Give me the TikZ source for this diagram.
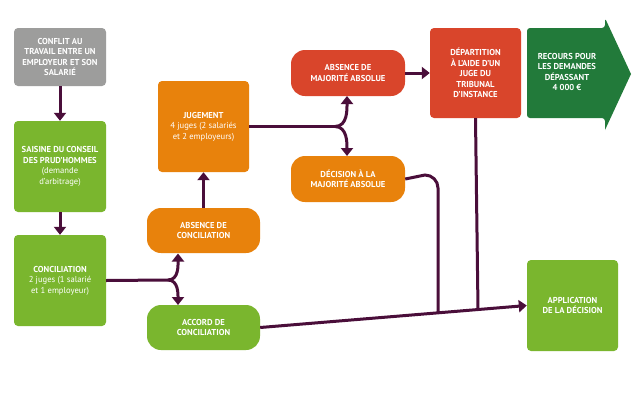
\documentclass[tikz,border=0pt]{standalone}
\usepackage{fontspec}
\setmainfont{PT Sans}
\usetikzlibrary{arrows.meta}
\definecolor{cgray}{HTML}{9D9D9C}
\definecolor{cgreen}{HTML}{7AB62E}
\definecolor{corange}{HTML}{E8820C}
\definecolor{cred}{HTML}{D9452B}
\definecolor{cdgreen}{HTML}{227A3A}
\definecolor{cline}{HTML}{4A0E3A}
\begin{document}
\begin{tikzpicture}[x=1pt,y=-1pt,
  box/.style={rounded corners=4pt,text=white,align=center,font=\fontsize{8.6}{10.5}\selectfont\bfseries,inner sep=0pt},
  pill/.style={box,rounded corners=14pt},
  ln/.style={draw=cline,line width=3pt},
  ar/.style={ln,-{Triangle[length=8pt,width=12pt]}}]
\useasboundingbox[fill=white] (0,0) rectangle (641,400);
\node[box,fill=cgray,minimum width=92pt,minimum height=58pt] (conf) at (60,57) {CONFLIT AU\\TRAVAIL ENTRE UN\\EMPLOYEUR ET SON\\SALARIÉ};
\node[box,fill=cgreen,minimum width=92pt,minimum height=91pt] (sais) at (60,166.5) {SAISINE DU CONSEIL\\DES PRUD’HOMMES\\{\mdseries(demande}\\{\mdseries d’arbitrage)}};
\node[box,fill=cgreen,minimum width=92pt,minimum height=91pt] (conc) at (60,280.5) {CONCILIATION\\{\mdseries 2 juges (1 salarié}\\{\mdseries et 1 employeur)}};
\node[pill,fill=corange,minimum width=113pt,minimum height=45pt] (absc) at (203.5,230.5) {ABSENCE DE\\CONCILIATION};
\node[box,fill=corange,minimum width=91pt,minimum height=91pt] (jug) at (203.5,126.5) {JUGEMENT\\{\mdseries 4 juges (2 salariés}\\{\mdseries et 2 employeurs)}};
\node[pill,fill=cgreen,minimum width=113pt,minimum height=45pt] (acc) at (203.5,327.5) {ACCORD DE\\CONCILIATION};
\node[pill,fill=cred,minimum width=114pt,minimum height=46pt] (absm) at (348,73) {ABSENCE DE\\MAJORITÉ ABSOLUE};
\node[pill,fill=corange,minimum width=114pt,minimum height=46pt] (dec) at (348,179) {DÉCISION À LA\\MAJORITÉ ABSOLUE};
\node[box,fill=cred,minimum width=91pt,minimum height=90pt] (dep) at (475.5,73) {DÉPARTITION\\À L’AIDE D’UN\\JUGE DU\\TRIBUNAL\\D’INSTANCE};
\fill[cdgreen,rounded corners=3pt] (527,28) -- (605,28) -- (605,18) [sharp corners]-- (631,74) -- (605,130) [rounded corners=3pt] -- (605,118) -- (527,118) -- cycle;
\node[box] (rec) at (567,72) {RECOURS POUR\\LES DEMANDES\\DÉPASSANT\\4 000 €};
\node[box,fill=cgreen,minimum width=91pt,minimum height=91pt] (app) at (572.5,305.5) {APPLICATION\\DE LA DÉCISION};
\coordinate (j1) at (438,312);
\coordinate (j2) at (478,309);
\draw[ar] (conf.south) -- (sais.north);
\draw[ar] (sais.south) -- (conc.north);
\draw[ln] (conc.east) -- (168,280);
\draw[ar] (168,280) to[out=0,in=-90] (178,253.5);
\draw[ar] (168,280) to[out=0,in=90] (178,305);
\draw[ar] (absc.north) -- (jug.south);
\draw[ln] (jug.east) -- (335,126.5);
\draw[ar] (335,126.5) to[out=0,in=-90] (347,96);
\draw[ar] (335,126.5) to[out=0,in=90] (347,156);
\draw[ar] (absm.east) -- (dep.west);
\draw[ar] (acc.east) -- (app.west);
\draw[ln] (dec.east) -- (425,175) to[out=0,in=90] (438,188) -- (j1);
\draw[ln] (dep.south) -- (j2);
\end{tikzpicture}
\end{document}
